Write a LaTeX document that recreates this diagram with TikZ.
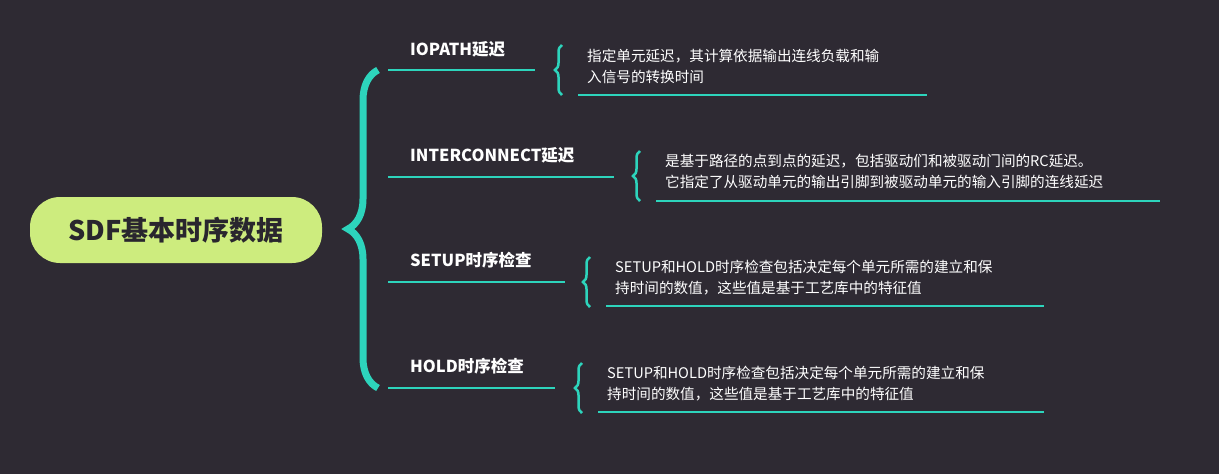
\documentclass[tikz,border=0pt]{standalone}
\usepackage{fontspec}
\setmainfont{Noto Sans CJK SC}
\usetikzlibrary{decorations.pathreplacing}
\definecolor{bg}{HTML}{2E2A33}
\definecolor{teal}{HTML}{2DD4BC}
\definecolor{rootc}{HTML}{CDEC7E}
\tikzset{
  lab/.style={anchor=south west,text=white,font=\bfseries\fontsize{16.5}{20}\selectfont,inner sep=0pt},
  desc/.style={anchor=north west,text=white,align=left,font=\fontsize{14.6}{21}\selectfont,inner sep=0pt},
  uline/.style={draw=teal,line width=2.5pt},
  sbrace/.style={draw=teal,line width=2.5pt,decorate,decoration={brace,amplitude=7pt}},
}
\begin{document}
\begin{tikzpicture}[x=1pt,y=-1pt]
\fill[bg] (0,0) rectangle (1219,474);
\useasboundingbox (0,0) rectangle (1219,474);
\node[fill=rootc,rounded corners=30pt,minimum width=292pt,minimum height=66pt,text=bg!90!black,font=\bfseries\fontsize{27}{30}\selectfont] (root) at (176,230) {SDF基本时序数据};
\draw[draw=teal,line width=7pt,decorate,decoration={brace,amplitude=30pt}] (378,388) -- (378,70);
% branches
\coordinate (a1) at (388,70); \coordinate (a2) at (535,70);
\coordinate (b1) at (388,177); \coordinate (b2) at (614,177);
\coordinate (c1) at (388,282); \coordinate (c2) at (565,282);
\coordinate (d1) at (388,388); \coordinate (d2) at (555,388);
\draw[uline] (a1)--(a2); \draw[uline] (b1)--(b2); \draw[uline] (c1)--(c2); \draw[uline] (d1)--(d2);
\node[lab] (la) at (410,57) {IOPATH延迟};
\node[lab] (lb) at (410,163) {INTERCONNECT延迟};
\node[lab] (lc) at (410,268) {SETUP时序检查};
\node[lab] (ld) at (410,374) {HOLD时序检查};
% small braces
\draw[sbrace] (562,95)--(562,45);
\draw[sbrace] (640,201)--(640,151);
\draw[sbrace] (590,307)--(590,257);
\draw[sbrace] (582,413)--(582,363);
% descriptions
\node[desc] (da) at (587,49) {指定单元延迟，其计算依据输出连线负载和输\\入信号的转换时间};
\node[desc] (db) at (665,154) {是基于路径的点到点的延迟，包括驱动们和被驱动门间的RC延迟。\\它指定了从驱动单元的输出引脚到被驱动单元的输入引脚的连线延迟};
\node[desc] (dc) at (615,260) {SETUP和HOLD时序检查包括决定每个单元所需的建立和保\\持时间的数值，这些值是基于工艺库中的特征值};
\node[desc] (dd) at (607,366) {SETUP和HOLD时序检查包括决定每个单元所需的建立和保\\持时间的数值，这些值是基于工艺库中的特征值};
\coordinate (ua1) at (578,95); \coordinate (ua2) at (927,95);
\coordinate (ub1) at (656,201); \coordinate (ub2) at (1160,201);
\coordinate (uc1) at (606,306); \coordinate (uc2) at (1044,306);
\coordinate (ud1) at (598,412); \coordinate (ud2) at (1044,412);
\draw[uline] (ua1)--(ua2); \draw[uline] (ub1)--(ub2); \draw[uline] (uc1)--(uc2); \draw[uline] (ud1)--(ud2);
\end{tikzpicture}
\end{document}
